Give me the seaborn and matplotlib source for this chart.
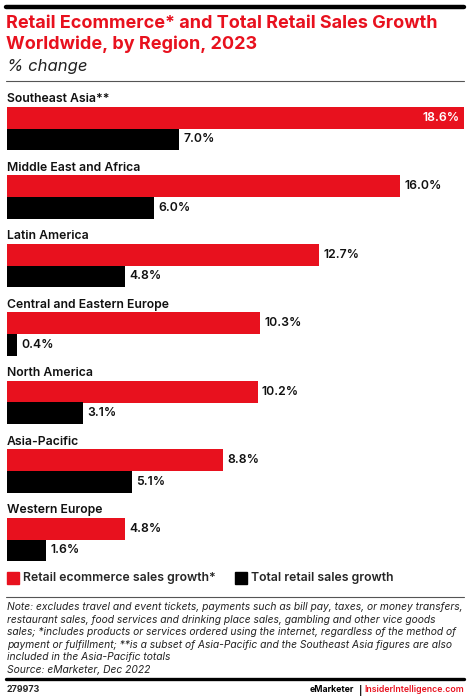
import matplotlib
matplotlib.use("Agg")
import matplotlib.pyplot as plt
import seaborn as sns
import pandas as pd
from matplotlib.lines import Line2D
from matplotlib.patches import Rectangle

regioes = ['Southeast Asia**', 'Middle East and Africa', 'Latin America',
           'Central and Eastern Europe', 'North America', 'Asia-Pacific', 'Western Europe']
ecommerce = [18.6, 16.0, 12.7, 10.3, 10.2, 8.8, 4.8]
total = [7.0, 6.0, 4.8, 0.4, 3.1, 5.1, 1.6]
series = ['Retail ecommerce sales growth*', 'Total retail sales growth']

vermelho = '#E8111E'
preto = '#000000'

dados = pd.DataFrame({
    'regiao': regioes * 2,
    'serie': [series[0]] * len(regioes) + [series[1]] * len(regioes),
    'valor': ecommerce + total,
})

sns.set_style("white")
plt.rcParams['font.family'] = ['Inter', 'DejaVu Sans']

W, H = 470, 700
fig = plt.figure(figsize=(W / 100, H / 100), dpi=100)


def fx(px):
    return px / W


def fy(py):
    return 1 - py / H


# linhas do topo
fig.add_artist(Line2D([fx(6), fx(464)], [fy(7), fy(7)], color='black', lw=3.2))
fig.text(fx(6), fy(24), 'Retail Ecommerce* and Total Retail Sales Growth',
         color=vermelho, fontsize=13.0, fontweight='bold', va='center')
fig.text(fx(6), fy(44), 'Worldwide, by Region, 2023',
         color=vermelho, fontsize=13.0, fontweight='bold', va='center')
fig.text(fx(7), fy(66), '% change', color='#222222', fontsize=12,
         fontstyle='italic', va='center')
fig.add_artist(Line2D([fx(6), fx(464)], [fy(81), fy(81)], color='#555555', lw=0.8))

# eixo das barras
passo = 68.5
centro0 = 128.5
topo = centro0 - 0.5 * passo
base = topo + len(regioes) * passo
ax = fig.add_axes([fx(7), fy(base), fx(457), (base - topo) / H])

sns.barplot(data=dados, y='regiao', x='valor', hue='serie', orient='h',
            palette=[vermelho, preto], width=0.63, dodge=True, ax=ax,
            legend=False, saturation=1, linewidth=0)
ax.set_xlim(0, 18.6)
ax.set_ylim(len(regioes) - 0.5, -0.5)
ax.axis('off')

for i, nome in enumerate(regioes):
    ax.text(0, i - 0.43, nome, fontsize=8.8, fontweight='semibold',
            va='center', ha='left', color='#111111')

maximo = max(ecommerce)
for cont, vals in zip(ax.containers, [ecommerce, total]):
    for barra, v in zip(cont, vals):
        yc = barra.get_y() + barra.get_height() / 2
        txt = f'{v:.1f}%'
        if v == maximo:
            ax.annotate(txt, (v, yc), xytext=(-3, 0), textcoords='offset points',
                        ha='right', va='center', color='white', fontsize=8.8,
                        fontweight='semibold')
        else:
            ax.annotate(txt, (v, yc), xytext=(3, 0), textcoords='offset points',
                        ha='left', va='center', color='#111111', fontsize=8.8,
                        fontweight='semibold')

# legenda
fig.add_artist(Rectangle((fx(7), fy(584)), fx(12), 12 / H, color=vermelho))
fig.text(fx(23), fy(578), series[0], fontsize=8.8, fontweight='semibold', va='center')
fig.add_artist(Rectangle((fx(235), fy(584)), fx(12), 12 / H, color=preto))
fig.text(fx(251), fy(578), series[1], fontsize=8.8, fontweight='semibold', va='center')
fig.add_artist(Line2D([fx(6), fx(464)], [fy(597), fy(597)], color='#555555', lw=0.8))

nota = [
    'Note: excludes travel and event tickets, payments such as bill pay, taxes, or money transfers,',
    'restaurant sales, food services and drinking place sales, gambling and other vice goods',
    'sales; *includes products or services ordered using the internet, regardless of the method of',
    'payment or fulfillment; **is a subset of Asia-Pacific and the Southeast Asia figures are also',
    'included in the Asia-Pacific totals',
    'Source: eMarketer, Dec 2022',
]
for k, linha in enumerate(nota):
    fig.text(fx(7), fy(607 + k * 12.6), linha, fontsize=7.4, fontstyle='italic',
             va='center', color='#222222')

fig.add_artist(Line2D([fx(6), fx(464)], [fy(679), fy(679)], color='black', lw=2.4))
fig.text(fx(7), fy(690), '279973', fontsize=6.4, fontweight='bold', va='center')
fig.text(fx(464), fy(690), 'InsiderIntelligence.com', fontsize=6.3, color=vermelho,
         fontweight='semibold', va='center', ha='right')
fig.text(fx(361), fy(690), '|', fontsize=6.8, color='black',
         fontweight='semibold', va='center', ha='center')
fig.text(fx(354), fy(690), 'eMarketer', fontsize=6.3, color='black',
         fontweight='bold', va='center', ha='right')

plt.savefig('out.png', dpi=100)
